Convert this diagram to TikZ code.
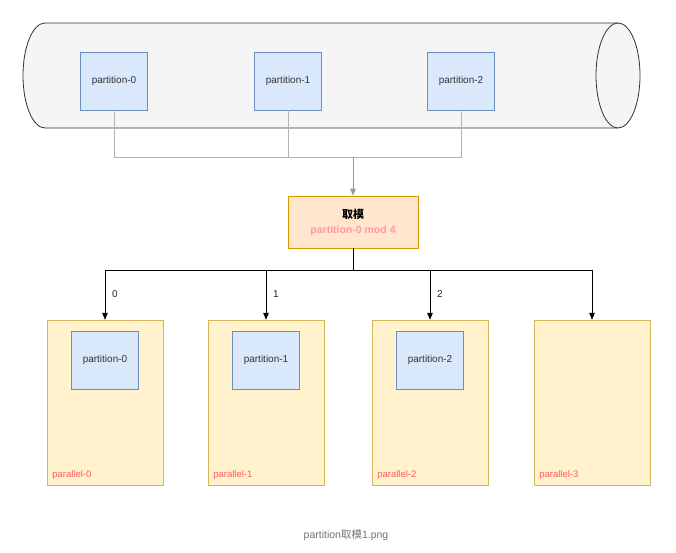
\documentclass[tikz,border=0pt]{standalone}
\usepackage{fontspec}
\setmainfont{Liberation Sans}
\newfontfamily\cjk{Noto Sans CJK SC}
\usetikzlibrary{arrows.meta}
\definecolor{pb}{HTML}{DAE8FC}\definecolor{pbd}{HTML}{6C8EBF}
\definecolor{ob}{HTML}{FFE6CC}\definecolor{obd}{HTML}{D79B00}
\definecolor{yb}{HTML}{FFF2CC}\definecolor{ybd}{HTML}{D6B656}
\definecolor{rl}{HTML}{FF5C5C}\definecolor{pk}{HTML}{FF99A8}
\begin{document}
\begin{tikzpicture}[x=1pt,y=-1pt,
 part/.style={draw=pbd,fill=pb,minimum width=67pt,minimum height=58pt,font=\fontsize{10}{12}\selectfont,text=black!80},
 par/.style={draw=ybd,fill=yb,minimum width=116pt,minimum height=165pt},
 plab/.style={font=\fontsize{9.5}{11}\selectfont,text=rl,anchor=west},
 gl/.style={draw=black!30,line width=0.8pt},
 bl/.style={draw=black,line width=0.8pt},
 arr/.style={-{Triangle[length=7pt,width=5.5pt]}}]
\useasboundingbox (0,0) rectangle (676,552);
\fill[white] (0,0) rectangle (676,552);
% cylinder
\filldraw[fill=black!4,draw=black!80,line width=0.8pt] (618,23) -- (45,23) arc[start angle=270,end angle=90,x radius=22,y radius=52.5] -- (618,128);
\filldraw[fill=black!4,draw=black!80,line width=0.8pt] (618,75.5) ellipse[x radius=22,y radius=52.5];
\node[part] (p0) at (114,81) {partition-0};
\node[part] (p1) at (288,81) {partition-1};
\node[part] (p2) at (461,81) {partition-2};
\node[draw=obd,fill=ob,minimum width=130pt,minimum height=52pt,align=center,line width=0.6pt] (m) at (353,222)
 {{\cjk\bfseries\fontsize{11}{13}\selectfont 取模}\\[3pt]{\bfseries\fontsize{10.5}{12}\selectfont\color{pk}partition-0 mod 4}};
\coordinate (j) at (353,157);
\draw[gl] (p0.south) |- (j) (p2.south) |- (j) (p1.south) -- (p1.south|-j);
\draw[gl,arr,black!40] (j) -- (m.north);
\foreach \i/\x in {0/105,1/266,2/430,3/592}{
 \node[par] (q\i) at (\x,402.5) {};
 \node[plab] at (q\i.south west) [yshift=10pt,xshift=2pt] {parallel-\i};
}
\node[part] (r0) at (105,360) {partition-0};
\node[part] (r1) at (266,360) {partition-1};
\node[part] (r2) at (430,360) {partition-2};
\coordinate (k) at (353,270);
\draw[bl] (m.south) -- (k);
\draw[bl] (q0.north|-k) -- (q3.north|-k);
\foreach \i in {0,1,2,3}{\draw[bl,arr] (q\i.north|-k) -- (q\i.north);}
\foreach \i in {0,1,2}{\node[font=\fontsize{10}{12}\selectfont,text=black!85] at ([xshift=10pt,yshift=26pt]q\i.north) {\i};}
\node[text=black!55,font=\fontsize{10.5}{12}\selectfont] at (346,535) {partition{\cjk 取模}1.png};
\end{tikzpicture}
\end{document}
